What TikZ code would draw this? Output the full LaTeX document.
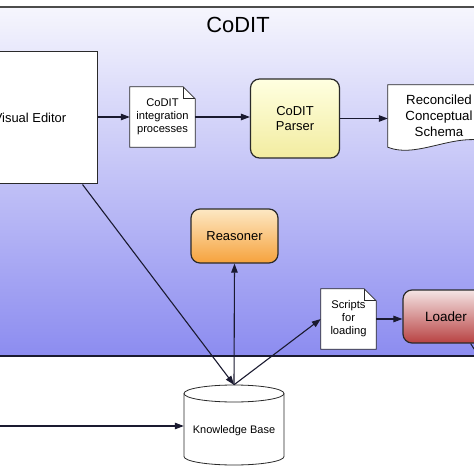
\documentclass[tikz,border=0pt]{standalone}
\usepackage{fontspec}
\setmainfont{Liberation Sans}
\usetikzlibrary{arrows.meta,calc}
\definecolor{ln}{HTML}{1A1A30}
\definecolor{bdr}{HTML}{2A2A2A}
\definecolor{frtop}{HTML}{F6F6FD}
\definecolor{frbot}{HTML}{8C8CF0}
\tikzset{
  arr/.style={draw=ln, line width=1.1bp, -{Triangle[length=9bp,width=6.5bp]}},
  plainbox/.style={draw=bdr, line width=1bp, fill=white, inner sep=0pt},
  rbox/.style={draw=bdr, line width=1.2bp, rounded corners=9bp, inner sep=0pt, align=center},
  docnode/.style={inner sep=0pt, align=center},
  docline/.style={draw=bdr, line width=0.8bp, fill=white},
  smalltext/.style={align=center, inner sep=0pt, font=\fontsize{11.2}{13}\selectfont},
  midtext/.style={font=\fontsize{13}{15}\selectfont},
}
\newcommand\mydocshape[2]{% node name, fold size
  \draw[docline] (#1.south west) -- (#1.north west) -- ($(#1.north east)+(-#2,0)$) -- ($(#1.north east)+(0,#2)$) -- (#1.south east) -- cycle;
  \draw[docline, fill=none] ($(#1.north east)+(-#2,0)$) -- ($(#1.north east)+(-#2,#2)$) -- ($(#1.north east)+(0,#2)$);
}
\begin{document}
\begin{tikzpicture}[x=1bp,y=-1bp]
\useasboundingbox (0,0) rectangle (474,474);
\begin{scope}
\clip (0,0) rectangle (474,474);
% frame
\shade[top color=frtop, bottom color=frbot] (-10,7) rectangle (490,356);
\draw[gray!60!black, line width=1.2bp] (-10,7) -- (490,7);
\draw[ln, line width=1.2bp] (-10,356) -- (490,356);
\node[font=\fontsize{22}{26}\selectfont] (title) at (238,25) {CoDIT};
% nodes
\node[plainbox, font=\fontsize{13}{15}\selectfont, minimum width=134bp, minimum height=132bp] (ve) at (30,118) {Visual Editor};
\node[docnode, minimum width=65bp, minimum height=60bp] (doc1) at (162.5,117) {};
\mydocshape{doc1}{12}
\node[smalltext] at (doc1) {CoDIT\\integration\\processes};
\node[rbox, midtext, top color=yellow!12!white, bottom color={rgb,255:red,242;green,236;blue,160}, minimum width=89bp, minimum height=79bp] (parser) at (295,118.5) {CoDIT\\Parser};
\node[docnode, minimum width=102bp, minimum height=62bp] (schema) at (439,116) {};
\draw[docline] (schema.north west) -- (schema.north east) -- ($(schema.south east)+(0,-5)$) .. controls ($(schema.south east)+(-35,-16)$) and ($(schema.south west)+(30,12)$) .. (schema.south west) -- cycle;
\node[align=center, inner sep=0pt, font=\fontsize{13.3}{16}\selectfont] at (439,116) {Reconciled\\Conceptual\\Schema};
\node[rbox, midtext, top color={rgb,255:red,253;green,232;blue,196}, bottom color={rgb,255:red,246;green,162;blue,60}, minimum width=87bp, minimum height=54bp] (reasoner) at (234.5,236) {Reasoner};
\node[docnode, minimum width=55bp, minimum height=60bp] (scripts) at (348.5,319) {};
\mydocshape{scripts}{12}
\node[smalltext] at (scripts) {Scripts\\for\\loading};
\node[rbox, font=\fontsize{13.5}{15}\selectfont, top color={rgb,255:red,244;green,228;blue,228}, bottom color={rgb,255:red,184;green,66;blue,66}, minimum width=86bp, minimum height=53bp] (loader) at (446,316.5) {Loader};
% knowledge base cylinder
\node[inner sep=0pt, minimum width=100bp, minimum height=80bp] (kb) at (234,425) {};
\draw[docline] (184,393.5) -- (184,456.5) .. controls (184,461.2) and (206.4,465) .. (234,465) .. controls (261.6,465) and (284,461.2) .. (284,456.5) -- (284,393.5);
\draw[docline] (234,393.5) ellipse [x radius=50, y radius=8.5];
\node[inner sep=0pt, font=\fontsize{11}{13}\selectfont] at (234,431) {Knowledge Base};
% connectors
\draw[arr] (doc1.west -| ve.east) -- (doc1.west);
\draw[arr] (doc1.east) -- (doc1.east -| parser.west);
\draw[arr] (parser.east) -- (parser.east -| schema.west);
\coordinate (veout) at ($(ve.south east)+(-15,0)$);
\draw[arr] (veout) -- (kb.north);
\draw[arr] (kb.north) -- (reasoner.south);
\draw[arr] (kb.north) -- (scripts.west);
\draw[arr] (scripts.east) -- (scripts.east -| loader.west);
\coordinate (leftin) at (-5,426);
\draw[arr] (leftin) -- (leftin -| kb.west);
\coordinate (lstart) at ($(loader.south east)+(-19,0)$);
\coordinate (lout) at (486,367);
\draw[ln, line width=1bp] (lstart) -- (lout);
\end{scope}
\end{tikzpicture}
\end{document}
